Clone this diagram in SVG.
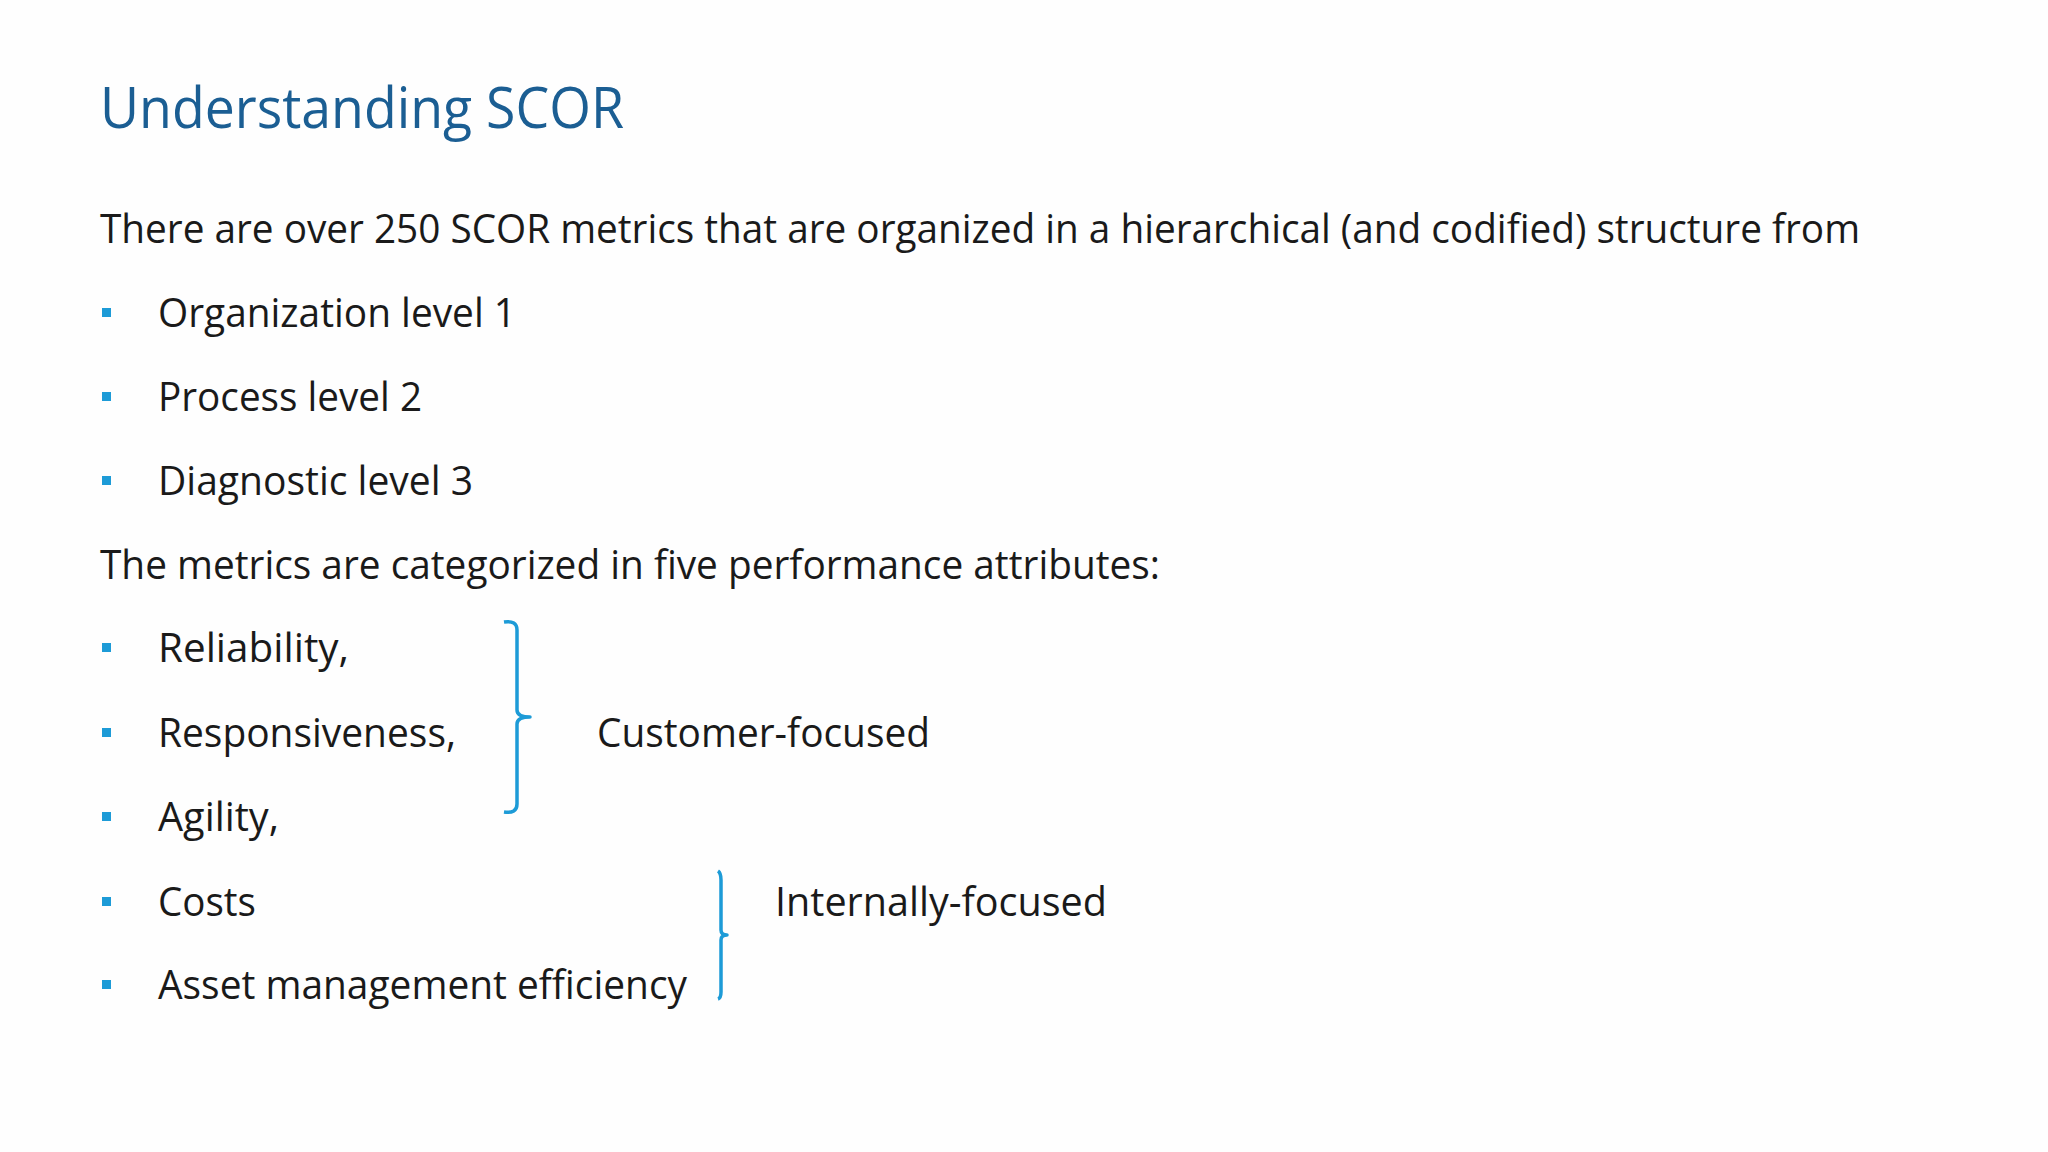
<svg xmlns="http://www.w3.org/2000/svg" width="2048" height="1152" viewBox="0 0 2048 1152">
<style>
.t{font-family:"Source Sans Pro","Open Sans","Liberation Sans",sans-serif;font-size:40px;fill:#1a1a1a}
.h{font-family:"Source Sans Pro","Open Sans","Liberation Sans",sans-serif;font-size:56px;fill:#1b5e93}
.b{fill:#1d9bd7}
.br{fill:none;stroke:#1d9bd7;stroke-width:3.5;stroke-linejoin:round}
</style>
<rect width="2048" height="1152" fill="#fefefe"/>
<g id="title"><text class="h" x="100" y="128" textLength="524" lengthAdjust="spacingAndGlyphs">Understanding SCOR</text></g>
<g id="intro"><text class="t" x="100" y="243" textLength="1760" lengthAdjust="spacingAndGlyphs">There are over 250 SCOR metrics that are organized in a hierarchical (and codified) structure from</text></g>
<g id="levels">
<rect class="b" x="102" y="308" width="9" height="9"/><text class="t" x="158" y="327" textLength="358" lengthAdjust="spacingAndGlyphs">Organization level 1</text>
<rect class="b" x="102" y="392" width="9" height="9"/><text class="t" x="158" y="411" textLength="264" lengthAdjust="spacingAndGlyphs">Process level 2</text>
<rect class="b" x="102" y="476" width="9" height="9"/><text class="t" x="158" y="495" textLength="315" lengthAdjust="spacingAndGlyphs">Diagnostic level 3</text>
</g>
<g id="metrics"><text class="t" x="100" y="579" textLength="1060" lengthAdjust="spacingAndGlyphs">The metrics are categorized in five performance attributes:</text></g>
<g id="attributes">
<rect class="b" x="102" y="643" width="9" height="9"/><text class="t" x="158" y="662" textLength="191" lengthAdjust="spacingAndGlyphs">Reliability,</text>
<rect class="b" x="102" y="728" width="9" height="9"/><text class="t" x="158" y="747" textLength="298" lengthAdjust="spacingAndGlyphs">Responsiveness,</text>
<rect class="b" x="102" y="812" width="9" height="9"/><text class="t" x="158" y="831" textLength="121" lengthAdjust="spacingAndGlyphs">Agility,</text>
<rect class="b" x="102" y="897" width="9" height="9"/><text class="t" x="158" y="916" textLength="98" lengthAdjust="spacingAndGlyphs">Costs</text>
<rect class="b" x="102" y="980" width="9" height="9"/><text class="t" x="158" y="999" textLength="529" lengthAdjust="spacingAndGlyphs">Asset management efficiency</text>
</g>
<g id="connectors">
<path class="br" d="M504 622 Q517 620 517 630 L517 710 Q517 717 530 717 Q517 717 517 724 L517 804 Q517 814 504 812"/>
<path class="br" d="M718 871 Q721 873 721 880 L721 930 Q721 935 727 935 Q721 935 721 940 L721 992 Q721 998 718 999"/>
</g>
<g id="customer"><text class="t" x="597" y="747" textLength="333" lengthAdjust="spacingAndGlyphs">Customer-focused</text></g>
<g id="internal"><text class="t" x="775" y="916" textLength="332" lengthAdjust="spacingAndGlyphs">Internally-focused</text></g>
</svg>
